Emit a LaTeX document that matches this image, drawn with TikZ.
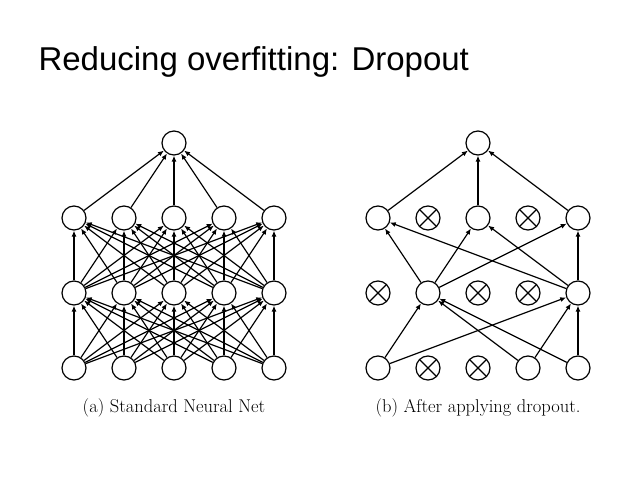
\documentclass[tikz,border=0pt]{standalone}
\usepackage{fontspec}
\newfontfamily\arial{Liberation Sans}
\usetikzlibrary{arrows.meta}
\begin{document}
\begin{tikzpicture}[x=1pt,y=-1pt,
  neuron/.style={circle,draw,line width=1.2pt,minimum size=24pt,inner sep=0pt,fill=white},
  dropped/.style={neuron,path picture={\draw[line width=1.2pt] (path picture bounding box.south west)--(path picture bounding box.north east) (path picture bounding box.north west)--(path picture bounding box.south east);}},
  conn/.style={-{Latex[length=6pt,width=5pt]},line width=1.2pt}]
\useasboundingbox (0,0) rectangle (638,478);
\node[anchor=west,font=\arial\fontsize{33}{38}\selectfont] (title) at (35,62) {Reducing overfitting: Dropout};
% left network
\node[neuron] (LT) at (174,143) {};
\foreach \i/\x in {1/74,2/124,3/174,4/224,5/274}{
  \node[neuron] (LA\i) at (\x,218) {};
  \node[neuron] (LB\i) at (\x,293) {};
  \node[neuron] (LC\i) at (\x,368) {};
}
\foreach \i in {1,...,5}{
  \draw[conn] (LA\i) -- (LT);
  \foreach \j in {1,...,5}{
    \draw[conn] (LB\i) -- (LA\j);
    \draw[conn] (LC\i) -- (LB\j);
  }
}
% right network
\node[neuron] (RT) at (478,143) {};
\node[neuron] (RA1) at (378,218) {};
\node[dropped] (RA2) at (428,218) {};
\node[neuron] (RA3) at (478,218) {};
\node[dropped] (RA4) at (528,218) {};
\node[neuron] (RA5) at (578,218) {};
\node[dropped] (RB1) at (378,293) {};
\node[neuron] (RB2) at (428,293) {};
\node[dropped] (RB3) at (478,293) {};
\node[dropped] (RB4) at (528,293) {};
\node[neuron] (RB5) at (578,293) {};
\node[neuron] (RC1) at (378,368) {};
\node[dropped] (RC2) at (428,368) {};
\node[dropped] (RC3) at (478,368) {};
\node[neuron] (RC4) at (528,368) {};
\node[neuron] (RC5) at (578,368) {};
\foreach \a in {1,3,5}{
  \draw[conn] (RA\a) -- (RT);
  \draw[conn] (RB2) -- (RA\a);
  \draw[conn] (RB5) -- (RA\a);
}
\foreach \c in {1,4,5}{
  \draw[conn] (RC\c) -- (RB2);
  \draw[conn] (RC\c) -- (RB5);
}
\node[font=\fontsize{18.5}{22}\selectfont] (capa) at (174,408) {(a) Standard Neural Net};
\node[font=\fontsize{18.5}{22}\selectfont] (capb) at (478,408) {(b) After applying dropout.};
\end{tikzpicture}
\end{document}
